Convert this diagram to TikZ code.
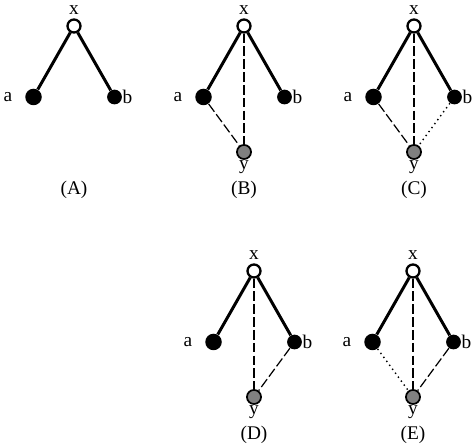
\documentclass[tikz,border=0pt]{standalone}
\usepackage{fontspec}
\setmainfont{Liberation Serif}
\usetikzlibrary{positioning}
\tikzset{
  topnode/.style={circle,draw,line width=1.3pt,fill=white,inner sep=0pt,minimum size=7.4pt},
  leafnode/.style={circle,fill=black,inner sep=0pt,minimum size=9.4pt},
  ynode/.style={circle,draw,line width=1pt,fill=black!50,inner sep=0pt,minimum size=8pt},
  treeedge/.style={line width=1.7pt},
  dashedge/.style={line width=0.7pt,dash pattern=on 5.5pt off 1.8pt},
  dotedge/.style={line width=0.8pt,dotted},
  caption/.style={font=\fontsize{11}{13}\selectfont},
}

\begin{document}
\begin{tikzpicture}[x=0.02cm,y=0.02cm,font=\fontsize{11}{13}\selectfont,
  every label/.style={inner sep=1pt},node distance=1cm]
  \useasboundingbox (0,0) rectangle (474,447);
  % five panels, same tree x -- a, x -- b
  \foreach \p/\px/\py in {A/74/421,B/244/421,C/414/421,D/254/176,E/413/176}{
    \node[topnode,label={[label distance=1pt]above:x}] (x\p) at (\px,\py) {};
    \node[leafnode,on grid,below left=1.42cm and 0.81cm of x\p,
      label={[label distance=6pt]left:a}] (a\p) {};
    \node[leafnode,on grid,below right=1.42cm and 0.81cm of x\p,
      minimum size=8.4pt,label={[label distance=-1pt]right:b}] (b\p) {};
    \node[caption,on grid,below=3.28cm of x\p] (cap\p) {(\p)};
    \draw[treeedge] (x\p) -- (a\p);
    \draw[treeedge] (x\p) -- (b\p);
  }
  % the y nodes
  \foreach \p in {B,C,D,E}{
    \node[ynode,on grid,below=2.52cm of x\p,label={[label distance=-1pt]below:y}] (y\p) {};
    \draw[dashedge] (x\p) -- (y\p);
  }
  \draw[dashedge] (aB) -- (yB);
  \draw[dashedge] (aC) -- (yC);
  \draw[dotedge] (bC) -- (yC);
  \draw[dashedge] (bD) -- (yD);
  \draw[dotedge] (aE) -- (yE);
  \draw[dashedge] (bE) -- (yE);
\end{tikzpicture}
\end{document}
